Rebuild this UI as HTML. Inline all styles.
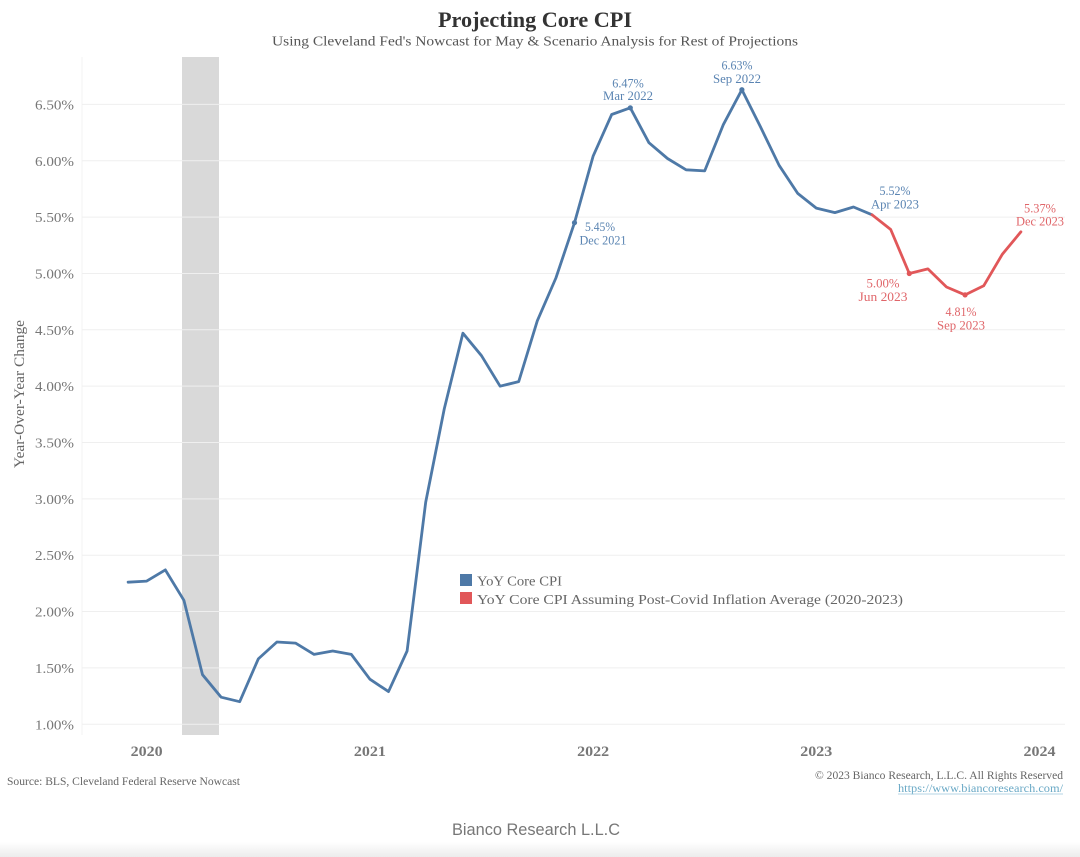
<!DOCTYPE html>
<html>
<head>
<meta charset="utf-8">
<style>
  html, body { margin:0; padding:0; background:#fff; }
  svg { display:block; }
  .serif { font-family: "Liberation Serif", "DejaVu Serif", serif; }
  .sans { font-family: "Liberation Sans", "DejaVu Sans", sans-serif; }
</style>
</head>
<body>
<svg width="1080" height="857" viewBox="0 0 1080 857" xmlns="http://www.w3.org/2000/svg">
  <defs>
    <linearGradient id="bot" x1="0" y1="0" x2="0" y2="1">
      <stop offset="0" stop-color="#ffffff"/>
      <stop offset="1" stop-color="#ececec"/>
    </linearGradient>
  </defs>
  <rect x="0" y="0" width="1080" height="857" fill="#ffffff"/>
  <rect x="0" y="842" width="1080" height="15" fill="url(#bot)"/>

  <!-- Title -->
  <text class="serif" x="535" y="27" text-anchor="middle" font-size="22" font-weight="bold" fill="#333" textLength="194" lengthAdjust="spacingAndGlyphs">Projecting Core CPI</text>
  <text class="serif" x="535" y="45.5" text-anchor="middle" font-size="14" fill="#555" textLength="526" lengthAdjust="spacingAndGlyphs">Using Cleveland Fed's Nowcast for May &amp; Scenario Analysis for Rest of Projections</text>

  <!-- recession band -->
  <rect x="182" y="57" width="37" height="678" fill="#d9d9d9"/>

  <!-- plot left border -->
  <line x1="82" y1="57" x2="82" y2="735" stroke="#f3f3f3" stroke-width="1"/>

  <!-- gridlines -->
  <g stroke="#efefef" stroke-width="1">
    <line x1="82" y1="104.4" x2="1065" y2="104.4"/>
    <line x1="82" y1="160.75" x2="1065" y2="160.75"/>
    <line x1="82" y1="217.1" x2="1065" y2="217.1"/>
    <line x1="82" y1="273.45" x2="1065" y2="273.45"/>
    <line x1="82" y1="329.8" x2="1065" y2="329.8"/>
    <line x1="82" y1="386.15" x2="1065" y2="386.15"/>
    <line x1="82" y1="442.5" x2="1065" y2="442.5"/>
    <line x1="82" y1="498.85" x2="1065" y2="498.85"/>
    <line x1="82" y1="555.2" x2="1065" y2="555.2"/>
    <line x1="82" y1="611.55" x2="1065" y2="611.55"/>
    <line x1="82" y1="667.9" x2="1065" y2="667.9"/>
    <line x1="82" y1="724.25" x2="1065" y2="724.25"/>
  </g>

  <!-- y tick labels -->
  <g class="serif" font-size="14" fill="#777" text-anchor="end">
    <text x="74" y="109.4" textLength="39" lengthAdjust="spacingAndGlyphs">6.50%</text>
    <text x="74" y="165.75" textLength="39" lengthAdjust="spacingAndGlyphs">6.00%</text>
    <text x="74" y="222.1" textLength="39" lengthAdjust="spacingAndGlyphs">5.50%</text>
    <text x="74" y="278.45" textLength="39" lengthAdjust="spacingAndGlyphs">5.00%</text>
    <text x="74" y="334.8" textLength="39" lengthAdjust="spacingAndGlyphs">4.50%</text>
    <text x="74" y="391.15" textLength="39" lengthAdjust="spacingAndGlyphs">4.00%</text>
    <text x="74" y="447.5" textLength="39" lengthAdjust="spacingAndGlyphs">3.50%</text>
    <text x="74" y="503.85" textLength="39" lengthAdjust="spacingAndGlyphs">3.00%</text>
    <text x="74" y="560.2" textLength="39" lengthAdjust="spacingAndGlyphs">2.50%</text>
    <text x="74" y="616.55" textLength="39" lengthAdjust="spacingAndGlyphs">2.00%</text>
    <text x="74" y="672.9" textLength="39" lengthAdjust="spacingAndGlyphs">1.50%</text>
    <text x="74" y="729.25" textLength="39" lengthAdjust="spacingAndGlyphs">1.00%</text>
  </g>

  <!-- y axis title -->
  <text class="serif" transform="translate(24,394) rotate(-90)" text-anchor="middle" font-size="14.5" fill="#666" textLength="148" lengthAdjust="spacingAndGlyphs">Year-Over-Year Change</text>

  <!-- x labels -->
  <g class="serif" font-size="14.5" font-weight="bold" fill="#777" text-anchor="middle">
    <text x="146.7" y="756" textLength="32" lengthAdjust="spacingAndGlyphs">2020</text>
    <text x="369.9" y="756" textLength="32" lengthAdjust="spacingAndGlyphs">2021</text>
    <text x="593.1" y="756" textLength="32" lengthAdjust="spacingAndGlyphs">2022</text>
    <text x="816.3" y="756" textLength="32" lengthAdjust="spacingAndGlyphs">2023</text>
    <text x="1039.5" y="756" textLength="32" lengthAdjust="spacingAndGlyphs">2024</text>
  </g>

  <!-- blue series -->
  <polyline fill="none" stroke="#4e79a7" stroke-width="2.8" stroke-linejoin="round" stroke-linecap="round"
    points="128.1,582.2 146.7,581.1 165.3,569.9 183.9,600.3 202.5,674.7 221.1,697.2 239.7,701.7 258.3,658.9 276.9,642.0 295.5,643.1 314.1,654.4 332.7,651.0 351.3,654.4 369.9,679.2 388.5,691.6 407.1,651.0 425.7,502.2 444.3,408.7 462.9,333.2 481.5,355.7 500.1,386.2 518.7,381.6 537.3,320.8 555.9,278.0 574.5,222.7 593.1,156.2 611.7,114.5 630.3,107.8 648.9,142.7 667.5,158.5 686.1,169.8 704.7,170.9 723.3,124.7 741.9,89.7 760.5,126.9 779.1,165.3 797.7,193.4 816.3,208.1 834.9,212.6 853.5,207.0 872.1,214.8"/>
  <!-- red series -->
  <polyline fill="none" stroke="#e15759" stroke-width="2.8" stroke-linejoin="round" stroke-linecap="round"
    points="872.1,214.8 890.7,229.5 909.3,273.5 927.9,268.9 946.5,287.0 965.1,294.9 983.7,285.8 1002.3,254.3 1020.9,231.8"/>

  <!-- marker dots -->
  <g fill="#4e79a7">
    <circle cx="574.5" cy="222.7" r="2.6"/>
    <circle cx="630.3" cy="107.8" r="2.6"/>
    <circle cx="741.9" cy="89.7" r="2.6"/>
  </g>
  <g fill="#e15759">
    <circle cx="909.3" cy="273.5" r="2.6"/>
    <circle cx="965.1" cy="294.9" r="2.6"/>
  </g>

  <!-- annotations -->
  <g class="serif" font-size="12.5" text-anchor="middle" fill="#5a84b2">
    <text x="628" y="87.5" textLength="31.5" lengthAdjust="spacingAndGlyphs">6.47%</text>
    <text x="628" y="100" textLength="50" lengthAdjust="spacingAndGlyphs">Mar 2022</text>
    <text x="737" y="69.5" textLength="31" lengthAdjust="spacingAndGlyphs">6.63%</text>
    <text x="737" y="83" textLength="48" lengthAdjust="spacingAndGlyphs">Sep 2022</text>
    <text x="600" y="231" textLength="30" lengthAdjust="spacingAndGlyphs">5.45%</text>
    <text x="603" y="244.5" textLength="47" lengthAdjust="spacingAndGlyphs">Dec 2021</text>
    <text x="895" y="195" textLength="31" lengthAdjust="spacingAndGlyphs">5.52%</text>
    <text x="895" y="208.5" textLength="48" lengthAdjust="spacingAndGlyphs">Apr 2023</text>
  </g>
  <g class="serif" font-size="12.5" text-anchor="middle" fill="#e0666a">
    <text x="883" y="287.5" textLength="33" lengthAdjust="spacingAndGlyphs">5.00%</text>
    <text x="883" y="301" textLength="49" lengthAdjust="spacingAndGlyphs">Jun 2023</text>
    <text x="961" y="316" textLength="31" lengthAdjust="spacingAndGlyphs">4.81%</text>
    <text x="961" y="329.5" textLength="48" lengthAdjust="spacingAndGlyphs">Sep 2023</text>
    <text x="1040" y="212.5" textLength="32" lengthAdjust="spacingAndGlyphs">5.37%</text>
    <text x="1040" y="225.5" textLength="48" lengthAdjust="spacingAndGlyphs">Dec 2023</text>
  </g>

  <!-- legend -->
  <rect x="460" y="574" width="12" height="12" fill="#4e79a7"/>
  <rect x="460" y="592" width="12" height="12" fill="#e15759"/>
  <g class="serif" font-size="14" fill="#666">
    <text x="477" y="585.5" textLength="85" lengthAdjust="spacingAndGlyphs">YoY Core CPI</text>
    <text x="477" y="604" textLength="426" lengthAdjust="spacingAndGlyphs">YoY Core CPI Assuming Post-Covid Inflation Average (2020-2023)</text>
  </g>

  <!-- footer -->
  <text class="serif" x="7" y="785" font-size="12" fill="#666" textLength="233" lengthAdjust="spacingAndGlyphs">Source: BLS, Cleveland Federal Reserve Nowcast</text>
  <text class="serif" x="1063" y="779" text-anchor="end" font-size="12" fill="#666" textLength="248" lengthAdjust="spacingAndGlyphs">© 2023 Bianco Research, L.L.C. All Rights Reserved</text>
  <text class="serif" x="1063" y="792" text-anchor="end" font-size="12" fill="#6aa9c6" textLength="165" lengthAdjust="spacingAndGlyphs">https://www.biancoresearch.com/</text>
  <line x1="898" y1="794" x2="1063" y2="794" stroke="#9cc8dc" stroke-width="0.8"/>

  <text class="sans" x="536" y="835" text-anchor="middle" font-size="16.3" fill="#777" textLength="168" lengthAdjust="spacingAndGlyphs">Bianco Research L.L.C</text>
</svg>
</body>
</html>
